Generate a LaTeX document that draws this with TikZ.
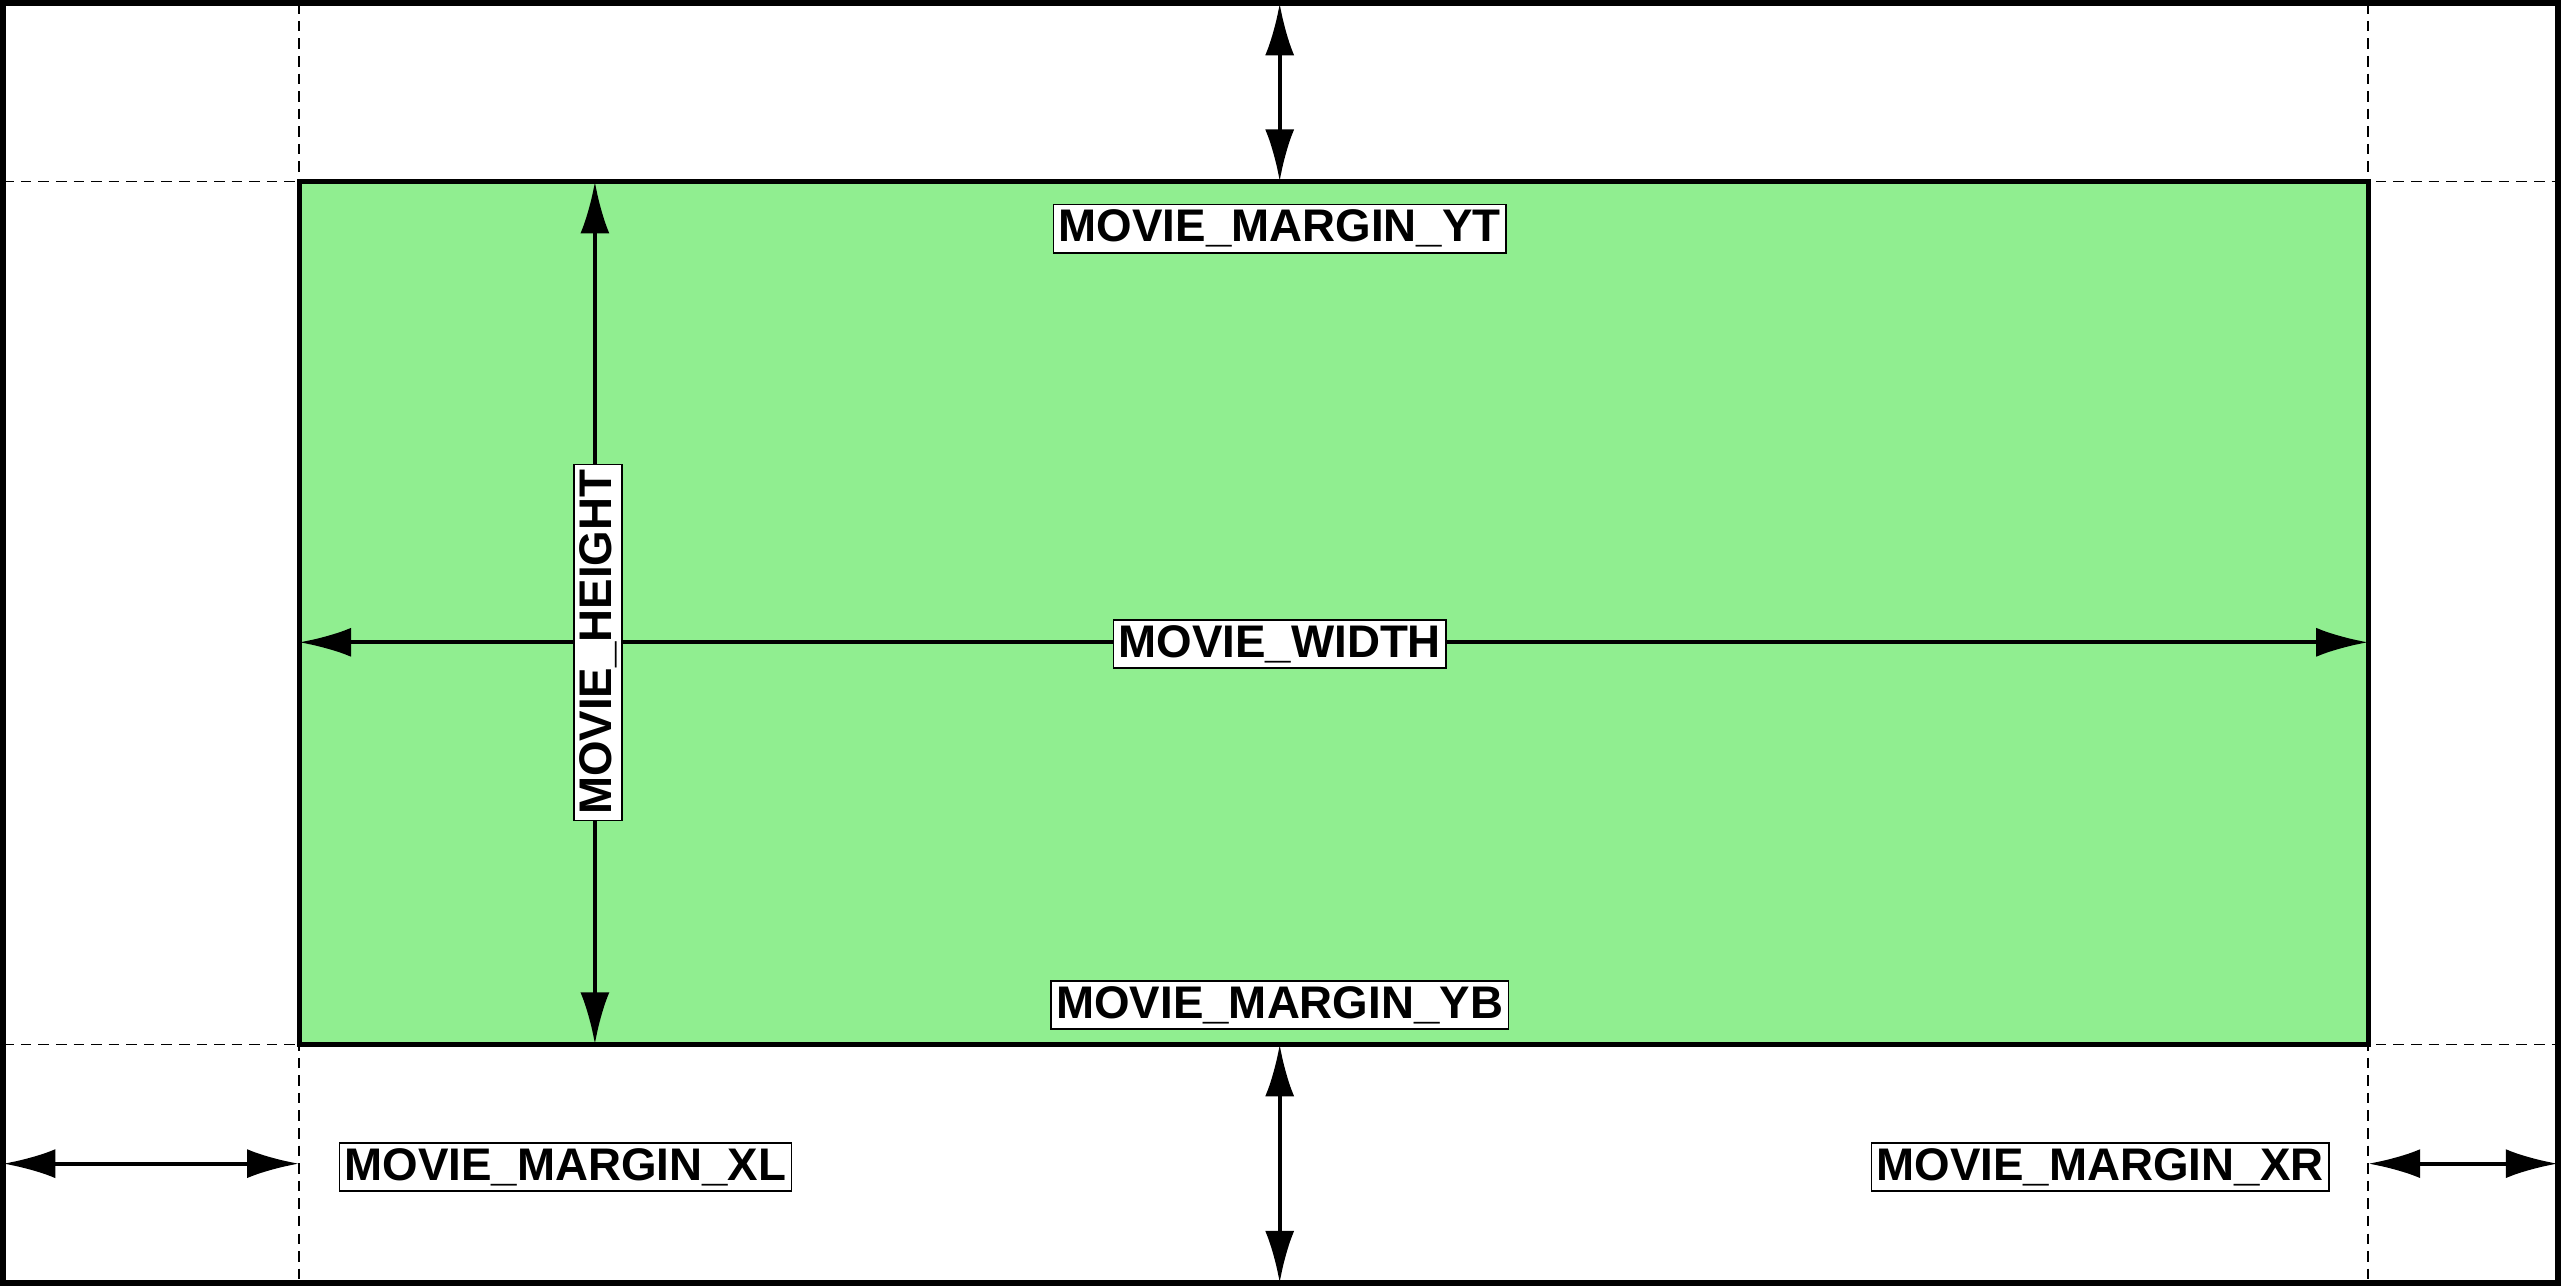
\documentclass[tikz,border=0pt]{standalone}
\usepackage{fontspec}
\setmainfont{Liberation Sans}
\usetikzlibrary{arrows.meta}
\definecolor{movgreen}{RGB}{144,238,144}
\begin{document}
\begin{tikzpicture}[x=0.016343cm,y=-0.016343cm,
  dim/.style={line width=1.2pt,{Latex[length=5.2mm,width=2.9mm]}-{Latex[length=5.2mm,width=2.9mm]}},
  lab/.style={draw,fill=white,line width=0.4pt,inner sep=1.5pt,font=\fontsize{13}{15}\selectfont\bfseries},
  guide/.style={dashed,line width=0.4pt,dash pattern=on 3pt off 2pt}]
\useasboundingbox (0,0) rectangle (1567,787);
\fill[white] (0,0) rectangle (1567,787);
\fill[movgreen] (183,111) rectangle (1449,639);
\draw[guide] (183,2) -- (183,785);
\draw[guide] (1449,2) -- (1449,785);
\draw[guide] (2,111) -- (1565,111);
\draw[guide] (2,639) -- (1565,639);
\draw[line width=1.4pt] (183,111) rectangle (1449,639);
\draw[line width=1.8pt] (2,2) rectangle (1565,785);
\coordinate (tt) at (783,2); \coordinate (tb) at (783,111);
\coordinate (bt) at (783,639); \coordinate (bb) at (783,785);
\coordinate (ht) at (364,111); \coordinate (hb) at (364,639);
\coordinate (wl) at (183,393); \coordinate (wr) at (1449,393);
\coordinate (ll) at (2,712); \coordinate (lr) at (183,712);
\coordinate (rl) at (1449,712); \coordinate (rr) at (1565,712);
\draw[dim] (tt) -- (tb);
\draw[dim] (bt) -- (bb);
\draw[dim] (ht) -- (hb);
\draw[dim] (wl) -- (wr);
\draw[dim] (ll) -- (lr);
\draw[dim] (rl) -- (rr);
\node[lab] (yt) at (783,140) {MOVIE\_MARGIN\_YT};
\node[lab] (yb) at (783,615) {MOVIE\_MARGIN\_YB};
\node[lab] (xl) at (346,714) {MOVIE\_MARGIN\_XL};
\node[lab] (xr) at (1285,714) {MOVIE\_MARGIN\_XR};
\node[lab] (w) at (783,394) {MOVIE\_WIDTH};
\node[lab,rotate=90] (h) at (366,393) {MOVIE\_HEIGHT};
\end{tikzpicture}
\end{document}
